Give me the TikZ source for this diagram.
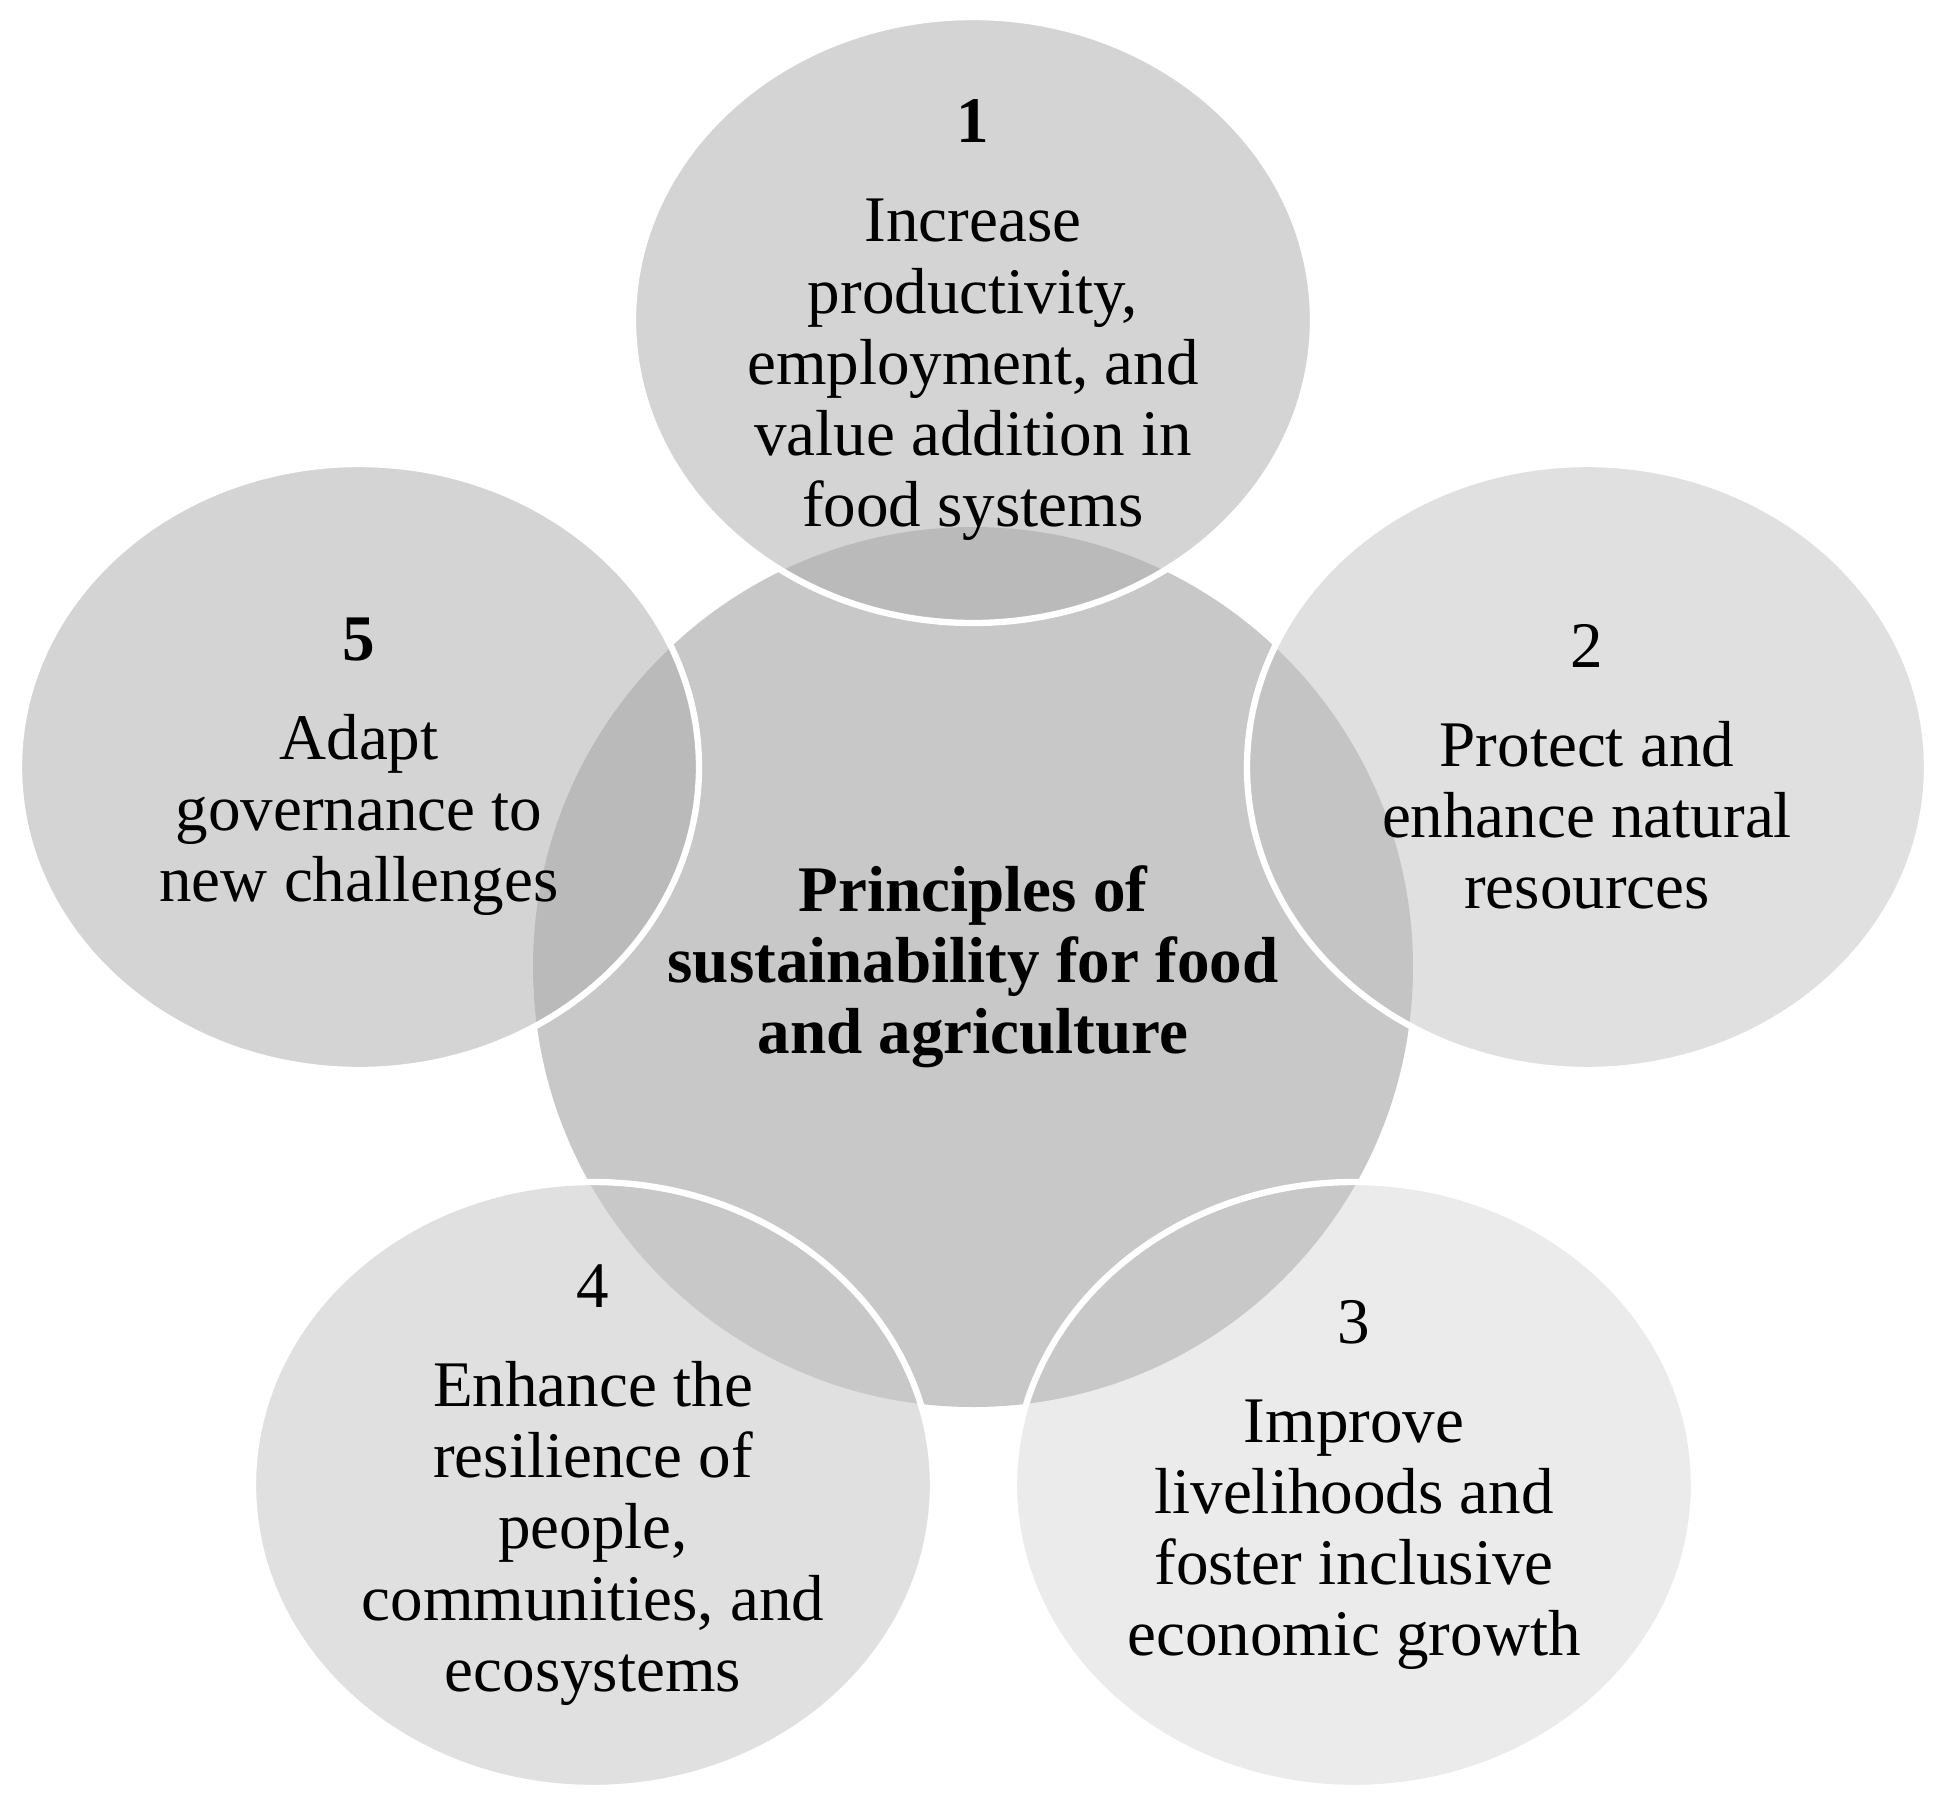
\documentclass[tikz,border=0pt]{standalone}
\usepackage{fontspec}
\setmainfont{Liberation Serif}
\usetikzlibrary{positioning}
\definecolor{coregray}{RGB}{200,200,200}
\definecolor{darkpetal}{RGB}{176,176,176}
\definecolor{midpetal}{RGB}{193,193,193}
\definecolor{lightpetal}{RGB}{224,224,224}
\definecolor{palepetal}{RGB}{235,235,235}

\begin{document}
\begin{tikzpicture}[x=0.01cm,y=-0.01cm,% one unit = one pixel of the drawing, y downwards
        petal/.style={x radius=340,y radius=303},%
        rim/.style={draw=white,line width=1.8pt},%
        txt/.style={align=center,inner sep=0pt,font=\fontsize{18.5}{20.2}\selectfont}]
\useasboundingbox (0,0) rectangle (1944,1820);
% centres: pentagon round the core
\coordinate (c0) at (973,967);
\coordinate (c1) at (973,320);
\coordinate (c2) at (1587,767);
\coordinate (c3) at (1354,1485);
\coordinate (c4) at (593,1485);
\coordinate (c5) at (359,767);

% lower petals sit under the core
\fill[palepetal] (c3) ellipse [petal];
\fill[lightpetal] (c4) ellipse [petal];
\fill[coregray] (c0) circle [radius=440];
\draw[rim] (c3) ellipse [petal];
\draw[rim] (c4) ellipse [petal];

% upper petals are see-through
\path[rim,fill=darkpetal,fill opacity=.545] (c1) ellipse [petal];
\path[rim,fill=midpetal,fill opacity=.5] (c2) ellipse [petal];
\path[rim,fill=darkpetal,fill opacity=.545] (c5) ellipse [petal];

\node[txt,font=\fontsize{18.5}{20.2}\selectfont\bfseries] (core) at (c0) {Principles of\\sustainability for food\\and agriculture};
\node[txt] (t1) at (c1) {\textbf{1}\\[8pt]Increase\\productivity,\\employment, and\\value addition in\\food systems};
\node[txt] (t2) at (c2) {2\\[8pt]Protect and\\enhance natural\\resources};
\node[txt] (t3) at (c3) {3\\[8pt]Improve\\livelihoods and\\foster inclusive\\economic growth};
\node[txt] (t4) at (c4) {4\\[8pt]Enhance the\\resilience of\\people,\\communities, and\\ecosystems};
\node[txt] (t5) at (c5) {\textbf{5}\\[8pt]Adapt\\governance to\\new challenges};
\end{tikzpicture}
\end{document}
